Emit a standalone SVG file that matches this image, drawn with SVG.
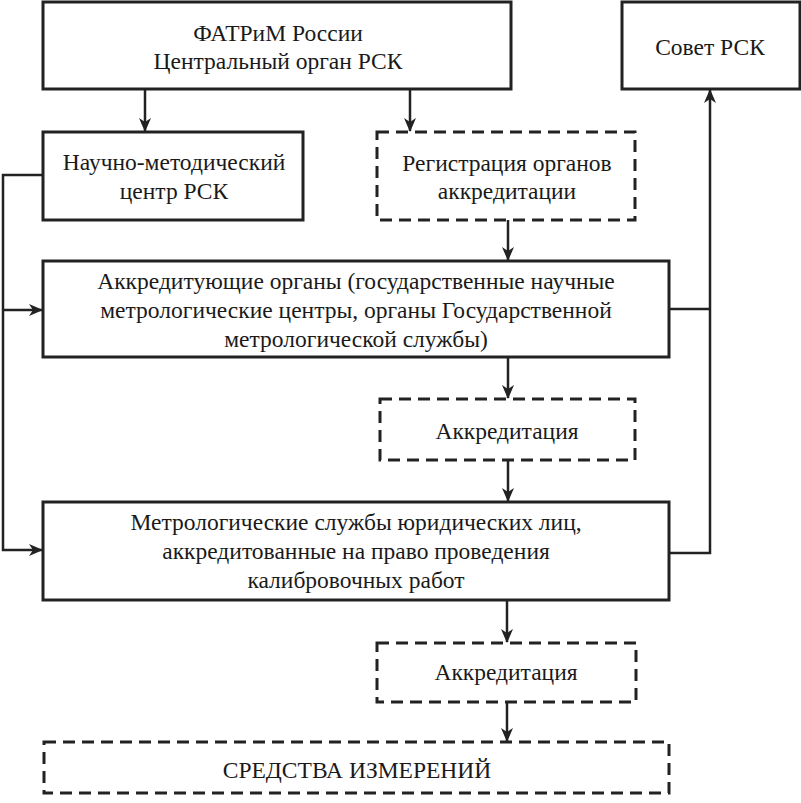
<svg xmlns="http://www.w3.org/2000/svg" width="801" height="803" viewBox="0 0 801 803">
<defs>
<style>
.box{fill:#fff;stroke:#222;stroke-width:3}
.dash{fill:#fff;stroke:#222;stroke-width:3;stroke-dasharray:12 7}
.t{font-size:23.5px;fill:#1a1a1a;text-anchor:middle}
.c{fill:none;stroke:#222;stroke-width:2.5}
</style>
<marker id="ah" markerUnits="userSpaceOnUse" markerWidth="14" markerHeight="12" refX="13" refY="6" orient="auto">
<path d="M0,0 L14,6 L0,12 L4,6 z" fill="#222"/>
</marker>
</defs>
<rect width="801" height="803" fill="#fff"/>
<g id="connectors">
<line class="c" x1="145" y1="89" x2="145" y2="131" marker-end="url(#ah)"/>
<line class="c" x1="410" y1="89" x2="410" y2="131" marker-end="url(#ah)"/>
<line class="c" x1="508" y1="220" x2="508" y2="260" marker-end="url(#ah)"/>
<line class="c" x1="508" y1="357" x2="508" y2="398" marker-end="url(#ah)"/>
<line class="c" x1="508" y1="460" x2="508" y2="501" marker-end="url(#ah)"/>
<line class="c" x1="507" y1="600" x2="507" y2="642" marker-end="url(#ah)"/>
<line class="c" x1="507" y1="702" x2="507" y2="741" marker-end="url(#ah)"/>
<polyline class="c" points="43,175 3,175 3,550 42,550" marker-end="url(#ah)"/>
<line class="c" x1="3" y1="310" x2="42" y2="310" marker-end="url(#ah)"/>
<polyline class="c" points="669,553 710,553 710,90" marker-end="url(#ah)"/>
<line class="c" x1="669" y1="309" x2="710" y2="309"/>
</g>
<g id="n_fatrim" font-family="Liberation Serif">
<rect class="box" x="43" y="2" width="468" height="87"/>
<text class="t" x="278" y="41">ФАТРиМ России</text>
<text class="t" x="278" y="69">Центральный орган РСК</text>
</g>
<g id="n_sovet" font-family="Liberation Serif">
<rect class="box" x="622" y="2" width="178" height="87"/>
<text class="t" x="710" y="55">Совет РСК</text>
</g>
<g id="n_nmc" font-family="Liberation Serif">
<rect class="box" x="43" y="132" width="260" height="88"/>
<text class="t" x="174" y="170">Научно-методический</text>
<text class="t" x="174" y="199">центр РСК</text>
</g>
<g id="n_reg" font-family="Liberation Serif">
<rect class="dash" x="377" y="132" width="258" height="88"/>
<text class="t" x="507" y="171">Регистрация органов</text>
<text class="t" x="507" y="199">аккредитации</text>
</g>
<g id="n_akkorg" font-family="Liberation Serif">
<rect class="box" x="43" y="261" width="626" height="96"/>
<text class="t" x="356" y="289">Аккредитующие органы (государственные научные</text>
<text class="t" x="356" y="318">метрологические центры, органы Государственной</text>
<text class="t" x="356" y="347">метрологической службы)</text>
</g>
<g id="n_akk1" font-family="Liberation Serif">
<rect class="dash" x="380" y="399" width="255" height="61"/>
<text class="t" x="507" y="439">Аккредитация</text>
</g>
<g id="n_metro" font-family="Liberation Serif">
<rect class="box" x="43" y="502" width="626" height="98"/>
<text class="t" x="356" y="530">Метрологические службы юридических лиц,</text>
<text class="t" x="356" y="559">аккредитованные на право проведения</text>
<text class="t" x="356" y="588">калибровочных работ</text>
</g>
<g id="n_akk2" font-family="Liberation Serif">
<rect class="dash" x="377" y="643" width="259" height="59"/>
<text class="t" x="506" y="680">Аккредитация</text>
</g>
<g id="n_si" font-family="Liberation Serif">
<rect class="dash" x="44" y="742" width="625" height="51"/>
<text class="t" x="357" y="778">СРЕДСТВА ИЗМЕРЕНИЙ</text>
</g>
</svg>
